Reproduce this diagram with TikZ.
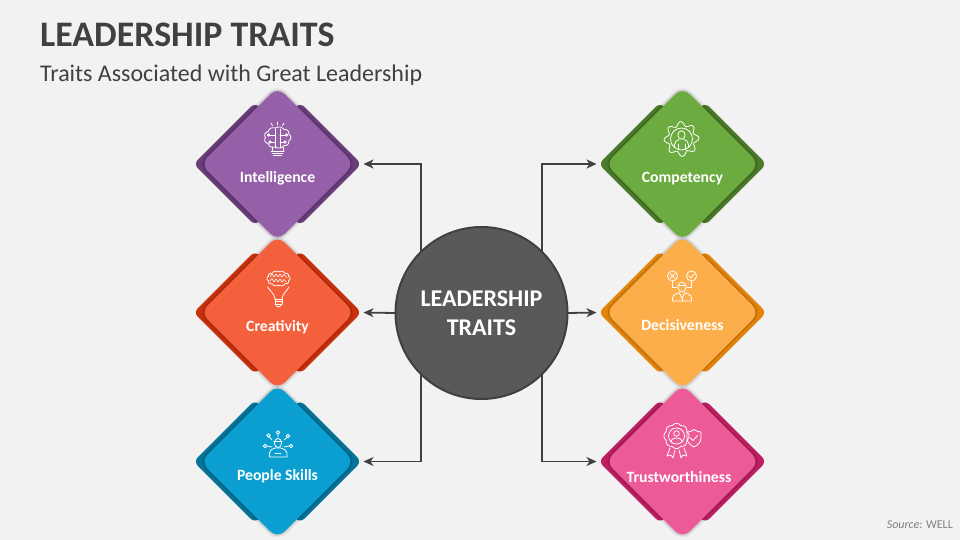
\documentclass[tikz,border=0pt]{standalone}
\usepackage{fontspec}
\setmainfont{Carlito}
\usetikzlibrary{shapes.geometric,arrows.meta}
\definecolor{bgc}{HTML}{F2F2F2}
\definecolor{titlec}{HTML}{404040}
\definecolor{hubc}{HTML}{595959}
\definecolor{purF}{HTML}{9660A8}\definecolor{purB}{HTML}{693E7B}
\definecolor{redF}{HTML}{F4603C}\definecolor{redB}{HTML}{C9310D}
\definecolor{bluF}{HTML}{0A9FD0}\definecolor{bluB}{HTML}{05749A}
\definecolor{greF}{HTML}{6BAB40}\definecolor{greB}{HTML}{4B7B2B}
\definecolor{oraF}{HTML}{FBAE4A}\definecolor{oraB}{HTML}{E5850A}
\definecolor{pnkF}{HTML}{EC5A98}\definecolor{pnkB}{HTML}{BE1E62}
\tikzset{
  frontd/.style={diamond,aspect=1,minimum width=154pt,minimum height=154pt,inner sep=0pt,outer sep=0pt,rounded corners=10pt,fill=#1,
    preaction={draw=black,opacity=.05,line width=6pt},
    preaction={draw=black,opacity=.10,line width=3pt}},
  backd/.style={diamond,aspect=1,minimum width=123pt,minimum height=123pt,inner sep=0pt,outer sep=0pt,rounded corners=6pt,fill=#1},
  lbl/.style={text=white,font=\bfseries\fontsize{15.7}{16}\selectfont,inner sep=0pt},
  conn/.style={draw=titlec,line width=1.8pt,-{Stealth[length=10pt,width=9pt,inset=3pt]},shorten >=2pt},
  icon/.style={draw=white,line width=.8pt,line join=round,line cap=round,fill=none},
}
\begin{document}
\begin{tikzpicture}[x=1pt,y=-1pt]
\path[use as bounding box,fill=bgc] (0,0) rectangle (960,540);
\node[anchor=base west,inner sep=0pt,text=titlec,font=\bfseries\fontsize{35.9}{36}\selectfont] (title) at (40,47) {LEADERSHIP TRAITS};
\node[anchor=base west,inner sep=0pt,text=titlec,font=\fontsize{23.95}{24}\selectfont] (subtitle) at (40,82) {Traits Associated with Great Leadership};
\node[anchor=base east,inner sep=0pt,text=gray,font=\fontsize{12}{12}\selectfont] (source) at (953,528) {\textit{Source}: WELL};

% backs
\node[backd=purB] (intelL) at (255,164) {}; \node[backd=purB] (intelR) at (300,164) {};
\node[backd=redB] (creaL) at (255,312.5) {}; \node[backd=redB] (creaR) at (300,312.5) {};
\node[backd=bluB] (peopL) at (255,461.5) {}; \node[backd=bluB] (peopR) at (300,461.5) {};
\node[backd=greB] (compL) at (660,164) {}; \node[backd=greB] (compR) at (705,164) {};
\node[backd=oraB] (deciL) at (660,312.5) {}; \node[backd=oraB] (deciR) at (705,312.5) {};
\node[backd=pnkB] (trusL) at (660,461.5) {}; \node[backd=pnkB] (trusR) at (705,461.5) {};
% fronts
\node[frontd=purF] (intel) at (277.5,164) {};
\node[frontd=redF] (crea) at (277.5,312.5) {};
\node[frontd=bluF] (peop) at (277.5,461.5) {};
\node[frontd=greF] (comp) at (682.5,164) {};
\node[frontd=oraF] (deci) at (682.5,312.5) {};
\node[frontd=pnkF] (trus) at (682.5,461.5) {};
% hub
\node[circle,minimum size=172pt,inner sep=0pt,outer sep=0pt,fill=hubc,draw=titlec,line width=2pt,align=center,text=white,font=\bfseries\fontsize{24}{29}\selectfont] (hub) at (481.5,313) {LEADERSHIP\\[0pt]TRAITS};
% connectors
\draw[conn] (hub.135) |- (intelR.east);
\draw[conn] (hub.180) -- (creaR.east);
\draw[conn] (hub.225) |- (peopR.east);
\draw[conn] (hub.45) |- (compL.west);
\draw[conn] (hub.0) -- (deciL.west);
\draw[conn] (hub.315) |- (trusL.west);
% labels
\node[lbl] (lintel) at (277.5,178) {Intelligence};
\node[lbl] (lcrea) at (277.5,327) {Creativity};
\node[lbl] (lpeop) at (277.5,476) {People Skills};
\node[lbl] (lcomp) at (682.5,179) {Competency};
\node[lbl] (ldeci) at (682.5,325) {Decisiveness};
\node[lbl] (ltrus) at (679,477) {Trustworthiness};

% icon: intelligence
\draw[icon] plot[domain=0:360,samples=145,smooth] ({277.5+(12+1.4*abs(cos(4.5*\x)))*cos(\x)},{137.5+(9.5+1.2*abs(cos(4.5*\x)))*sin(\x)});
\draw[icon] (275,129)--(275,148) (280,129)--(280,148) (272,147)--(272,151) (283,147)--(283,151);
\draw[icon] (271,151)--(284,151) (272,153.5)--(283,153.5) (273.5,155.7)--(281.5,155.7);
\draw[icon] (277.5,122)--(277.5,125) (271,123)--(272.5,125.5) (284,123)--(282.5,125.5);
\draw[icon] (268.5,135) circle (1.3) (286.5,135) circle (1.3) (270,142) circle (1.3) (285,142) circle (1.3);
\draw[icon] (269.8,135)--(275,135) (285.2,135)--(280,135) (271.3,142)--(275,142) (283.7,142)--(280,142);
% icon: creativity
\draw[icon] plot[domain=0:360,samples=145,smooth] ({278.5+(10.6+1*abs(cos(5*\x)))*cos(\x)},{278.5+(6.6+1*abs(cos(5*\x)))*sin(\x)});
\draw[icon,line width=.6pt] plot[smooth] coordinates {(270,277)(272,274)(274,277)(276,274)(278,277)(280,274)(282,277)(284,274.5)(287,278)};
\draw[icon,line width=.6pt] plot[smooth] coordinates {(270,281)(272,278.5)(274,282)(276,279)(278,282)(280,279)(282,282)(284,279.5)(286,282)};
\draw[icon] (267.5,287) .. controls (270,291) and (274,293) .. (275,299) (289,287) .. controls (287,291) and (283,293) .. (282,299);
\draw[icon] (275,299)--(282,299) (275,299)--(275,304) (282,299)--(282,304) (275,301.5)--(282,301.5) (275,304)--(282,304);
\draw[icon] (276,304) .. controls (276,308) and (281,308) .. (281,304);
% icon: people skills
\draw[icon] (278,443) ellipse (3.6 and 4.6);
\draw[icon] (274,441)--(282,441);
\draw[icon] (269.5,457) -- (269.5,453) .. controls (269.5,450) and (272,449) .. (275,448) -- (281,448) .. controls (284,449) and (287,450) .. (287,453) -- (287,457) -- cycle;
\draw[icon] (275,453)--(281,453);
\draw[icon] (268.5,435.5) circle (1.8) (278,432.5) circle (1.8) (288,436) circle (1.8) (265,446) circle (1.8) (291,446) circle (1.8);
\draw[icon] (269.5,437)--(272,440) (278,434.3)--(278,437) (287,437.5)--(284,440) (266.8,446)--(272,447) (289.2,446)--(284,447);
% icon: competency
\draw[icon] plot[domain=0:360,samples=145,smooth] ({681.5+(15.2+2.2*cos(8*\x+22.5))*cos(\x)},{139+(15.2+2.2*cos(8*\x+22.5))*sin(\x)});
\draw[icon] (681.5,139) circle (11);
\draw[icon] (681.5,135) ellipse (3.6 and 4.2);
\draw[icon] (674.5,147) -- (674.5,144.5) .. controls (674.5,141.5) and (677,140.5) .. (679,139.5) (688.5,147) -- (688.5,144.5) .. controls (688.5,141.5) and (686,140.5) .. (684,139.5);
\draw[icon] (678,149.5)--(678,144) (685,149.5)--(685,144);
% icon: decisiveness
\draw[icon] (672.5,276) circle (5) (691.5,276) circle (5);
\draw[icon] (670.5,274) -- (674.5,278) (674.5,274) -- (670.5,278);
\draw[icon] (689,276) -- (691,278) -- (694,274);
\draw[icon] (672.5,281) -- (672.5,287) -- (677,287) (691.5,281) -- (691.5,287) -- (687,287);
\draw[icon] (682,287) ellipse (4 and 5);
\draw[icon] (678,285)--(686,285);
\draw[icon] (672.5,301) -- (672.5,298) .. controls (672.5,295) and (676,294) .. (679,292.5) -- (682,298) -- (685,292.5) .. controls (688,294) and (691.5,295) .. (691.5,298) -- (691.5,301) -- cycle;
\draw[icon] (682,298) -- (682,301);
% icon: trustworthiness
\draw[icon] plot[domain=0:360,samples=145,smooth] ({676.5+(11.2+1.4*abs(cos(4*\x)))*cos(\x)},{436+(11.2+1.4*abs(cos(4*\x)))*sin(\x)});
\draw[icon] (676.5,436) circle (8);
\draw[icon] (676.5,433.5) circle (2.8);
\draw[icon] (671,442) .. controls (671.5,438.5) and (674.5,438) .. (676.5,438) .. controls (678.5,438) and (681.5,438.5) .. (682,442);
\draw[icon] (670,448) -- (667,456) -- (671,455) -- (673,458) -- (675,450);
\draw[icon] (684,448) -- (687,456) -- (683,455) -- (681,458) -- (679,450);
\draw[icon] (694,429.5) .. controls (691,431.5) and (689,432) .. (687,432) -- (687,438) .. controls (687,442) and (690,445) .. (694,447) .. controls (698,445) and (701,442) .. (701,438) -- (701,432) .. controls (699,432) and (697,431.5) .. (694,429.5) -- cycle;
\draw[icon] (690.5,438) -- (693,440.5) -- (697.5,435.5);
\end{tikzpicture}
\end{document}
